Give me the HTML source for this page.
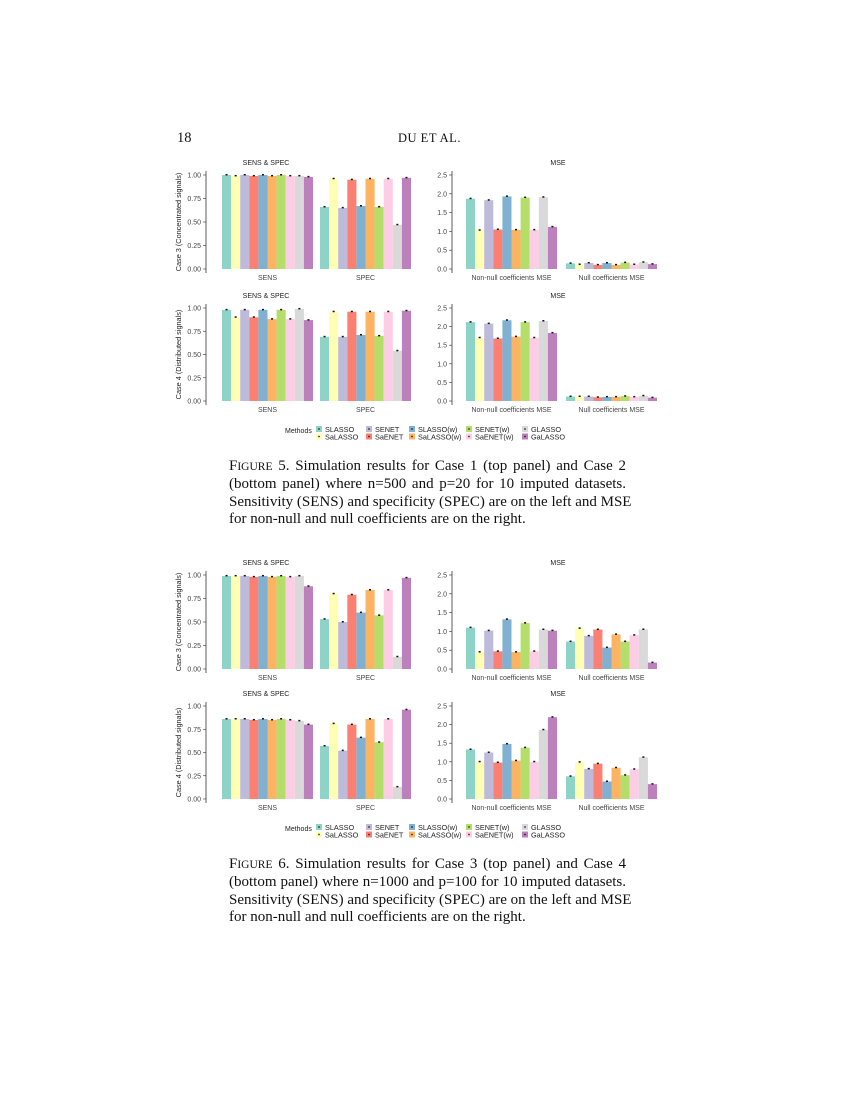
<!DOCTYPE html>
<html><head><meta charset="utf-8"><style>
body{margin:0;background:#fff;width:850px;height:1100px;overflow:hidden;position:relative;font-family:"Liberation Serif",serif;}
.t{position:absolute;font-size:15px;color:#111;line-height:17.3px;}
.j{display:block;width:397px;text-align:justify;text-align-last:justify;white-space:nowrap}
.l{display:block;white-space:nowrap}
svg{position:absolute;left:0;top:0}
</style></head><body>
<div class="t" style="left:177px;top:130px;font-size:14.5px">18</div>
<div class="t" style="left:398px;top:130px;font-size:12.5px;letter-spacing:0.5px">DU ET AL.</div>
<div class="t" style="left:229px;top:458px"><span class="j">F<span style="font-size:11.5px">IGURE</span> 5. Simulation results for Case 1 (top panel) and Case 2</span><span class="j">(bottom panel) where n=500 and p=20 for 10 imputed datasets.</span><span class="j">Sensitivity (SENS) and specificity (SPEC) are on the left and MSE</span><span class="l">for non-null and null coefficients are on the right.</span></div>
<div class="t" style="left:229px;top:856px"><span class="j">F<span style="font-size:11.5px">IGURE</span> 6. Simulation results for Case 3 (top panel) and Case 4</span><span class="j">(bottom panel) where n=1000 and p=100 for 10 imputed datasets.</span><span class="j">Sensitivity (SENS) and specificity (SPEC) are on the left and MSE</span><span class="l">for non-null and null coefficients are on the right.</span></div>
<svg id="s" width="850" height="1100" font-family="Liberation Sans, sans-serif"></svg>
<script>
const C=["#8DD3C7","#FFFFB3","#BEBADA","#FB8072","#80B1D3","#FDB462","#B3DE69","#FCCDE5","#D9D9D9","#BC80BD"];
let o="";
function panel(ax,top,bot,max,ticks,g1,g2,v1,v2,title,cats,ylab,labs){
  const bw=9.1;
  o+=`<text x="${ax+(ax<300?60:106)}" y="${top-10}" font-size="7" fill="#222" text-anchor="middle">${title}</text>`;
  o+=`<line x1="${ax}" y1="${top-4}" x2="${ax}" y2="${bot+4}" stroke="#333" stroke-width="0.8"/>`;
  ticks.forEach((t,i)=>{const y=bot-(t/max)*(bot-top);o+=`<line x1="${ax-3}" y1="${y}" x2="${ax}" y2="${y}" stroke="#333" stroke-width="0.6"/><text x="${ax-5}" y="${y+2.5}" font-size="7" fill="#444" text-anchor="end">${labs[i]}</text>`;});
  [[g1,v1],[g2,v2]].forEach(([x0,v])=>{v.forEach((d,i)=>{const h=d/max*(bot-top);const x=x0+i*bw;o+=`<rect x="${x}" y="${bot-h}" width="${bw}" height="${h}" fill="${C[i]}"/><rect x="${x+bw/2-1}" y="${bot-h-1}" width="2" height="1.5" fill="#111"/>`;});});
  o+=`<text x="${g1+45.5}" y="${bot+11}" font-size="7" fill="#444" text-anchor="middle">${cats[0]}</text><text x="${g2+45.5}" y="${bot+11}" font-size="7" fill="#444" text-anchor="middle">${cats[1]}</text>`;
  if(ylab)o+=`<text transform="translate(${ax-25},${(top+bot)/2}) rotate(-90)" font-size="7.3" fill="#222" text-anchor="middle">${ylab}</text>`;
}
const L1=[0,.25,.5,.75,1],L1s=["0.00","0.25","0.50","0.75","1.00"],L2=[0,.5,1,1.5,2,2.5],L2s=["0.0","0.5","1.0","1.5","2.0","2.5"];
function fig(y1,y2,d){
  panel(206,y1,y1+94,1,L1,222,320,d[0],d[1],"SENS &amp; SPEC",["SENS","SPEC"],"Case 3 (Concentrated signals)",L1s);
  panel(452,y1,y1+94,2.5,L2,466,566,d[2],d[3],"MSE",["Non-null coefficients MSE","Null coefficients MSE"],"",L2s);
  panel(206,y2,y2+93,1,L1,222,320,d[4],d[5],"SENS &amp; SPEC",["SENS","SPEC"],"Case 4 (Distributed signals)",L1s);
  panel(452,y2,y2+93,2.5,L2,466,566,d[6],d[7],"MSE",["Non-null coefficients MSE","Null coefficients MSE"],"",L2s);
}
function legend(y){
  o+=`<text x="285" y="${y+6}" font-size="7" fill="#222">Methods</text>`;
  const n=["SLASSO","SaLASSO","SENET","SaENET","SLASSO(w)","SaLASSO(w)","SENET(w)","SaENET(w)","GLASSO","GaLASSO"];
  const xs=[316,366,409,466,522];
  for(let i=0;i<10;i++){const x=xs[Math.floor(i/2)],yy=y+(i%2)*7.5;o+=`<rect x="${x}" y="${yy-1}" width="6" height="6" fill="${C[i]}"/><rect x="${x+2.3}" y="${yy+1.3}" width="1.4" height="1.4" fill="#111"/><text x="${x+9}" y="${yy+5}" font-size="7.3" fill="#222">${n[i]}</text>`;}
}
fig(175,308,[
[1,.99,1,.99,1,.99,1,.99,.99,.98],[.66,.96,.65,.95,.67,.96,.66,.96,.47,.97],
[1.87,1.03,1.83,1.05,1.93,1.04,1.90,1.04,1.91,1.12],[.15,.12,.16,.11,.16,.11,.17,.12,.18,.13],
[.98,.90,.98,.90,.98,.88,.98,.88,.99,.87],[.69,.96,.69,.96,.71,.96,.70,.96,.54,.97],
[2.12,1.70,2.08,1.68,2.17,1.73,2.12,1.70,2.15,1.83],[.12,.12,.12,.10,.11,.11,.13,.11,.14,.09]]);
legend(427);
fig(575,706,[
[.99,.99,.99,.98,.99,.98,.99,.98,.99,.88],[.53,.80,.50,.79,.60,.84,.57,.84,.13,.97],
[1.1,.45,1.02,.47,1.32,.45,1.22,.47,1.05,1.02],[.73,1.08,.88,1.05,.57,.92,.73,.9,1.05,.17],
[.86,.86,.86,.85,.86,.85,.86,.85,.84,.80],[.57,.81,.52,.80,.66,.86,.61,.86,.13,.96],
[1.33,1.0,1.25,.98,1.48,1.03,1.38,1.0,1.86,2.2],[.61,.99,.81,.95,.47,.84,.64,.80,1.12,.40]]);
legend(825);
document.getElementById("s").innerHTML=o;
</script>
</body></html>
